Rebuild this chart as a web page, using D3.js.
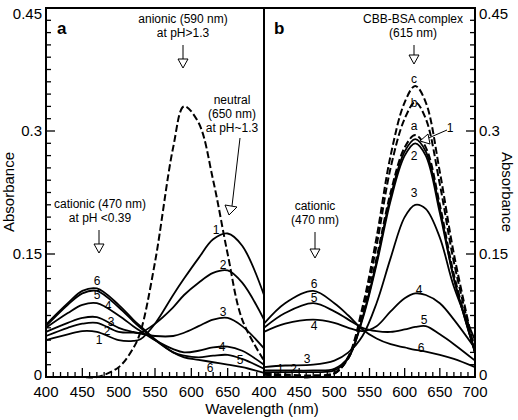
<!DOCTYPE html><html><head><meta charset="utf-8"><script src="https://cdn.jsdelivr.net/npm/d3@7"></script>
<style>body{margin:0;background:#fff}text{font-family:"Liberation Sans",Arial,sans-serif}</style></head><body>
<svg id="c" width="518" height="420"></svg>
<script>
const wlA=[400,430,450,470,500,520,530,550,575,590,610,630,650,670,700];
const aAnion=[0,0,0,0,0.012,0.035,0.055,0.14,0.28,0.33,0.31,0.24,0.15,0.07,0.02];
const aS1=[0.045,0.052,0.056,0.055,0.045,0.044,0.046,0.065,0.1,0.12,0.145,0.168,0.175,0.16,0.1];
const aS2=[0.05,0.06,0.065,0.066,0.055,0.054,0.054,0.065,0.085,0.1,0.115,0.127,0.13,0.115,0.07];
const aS3=[0.055,0.066,0.072,0.073,0.06,0.055,0.053,0.05,0.05,0.054,0.062,0.07,0.072,0.062,0.035];
const aS4=[0.06,0.078,0.088,0.09,0.075,0.062,0.056,0.045,0.034,0.03,0.032,0.036,0.037,0.032,0.015];
const aS5=[0.062,0.088,0.102,0.105,0.085,0.068,0.06,0.045,0.03,0.026,0.024,0.026,0.027,0.022,0.01];
const aS6=[0.064,0.09,0.105,0.108,0.088,0.07,0.062,0.046,0.03,0.024,0.021,0.018,0.015,0.012,0.005];
const wlB=[400,430,470,500,520,540,560,580,600,615,630,650,670,700];
const bC=[0.003,0.001,0,0.004,0.025,0.085,0.17,0.27,0.335,0.355,0.335,0.25,0.15,0.03];
const bB=[0.003,0.001,0,0.004,0.024,0.08,0.16,0.255,0.315,0.335,0.315,0.235,0.14,0.03];
const bA=[0.004,0.003,0.002,0.005,0.023,0.075,0.145,0.225,0.28,0.295,0.28,0.21,0.125,0.03];
const b1=[0.006,0.006,0.006,0.008,0.023,0.072,0.14,0.22,0.275,0.29,0.275,0.205,0.12,0.03];
const b2=[0.008,0.008,0.008,0.01,0.024,0.07,0.137,0.215,0.27,0.285,0.27,0.2,0.12,0.03];
const b3=[0.012,0.014,0.015,0.02,0.03,0.05,0.09,0.145,0.195,0.21,0.205,0.17,0.11,0.045];
const b4=[0.055,0.065,0.07,0.066,0.06,0.056,0.062,0.08,0.096,0.102,0.1,0.09,0.07,0.035];
const b5=[0.06,0.078,0.09,0.08,0.07,0.06,0.056,0.055,0.058,0.061,0.062,0.052,0.04,0.02];
const b6=[0.065,0.09,0.105,0.09,0.075,0.058,0.047,0.04,0.036,0.033,0.031,0.027,0.022,0.012];
const xTicks=[400,450,500,550,600,650,700];
const yTicks=[0,0.15,0.3,0.45];

const svg=d3.select("#c");
const y=d3.scaleLinear([0,0.45],[377,8]);
const xa=d3.scaleLinear([400,700],[46,264]);
const xb=d3.scaleLinear([400,700],[264,475]);
const g=svg.append("g");
function panel(x,series,wl){
  const line=d3.line().x((d,i)=>x(wl[i])).y(d=>y(d)).curve(d3.curveCatmullRom);
  series.forEach(s=>{g.append("path").attr("d",line(s.v)).attr("fill","none").attr("stroke","#000")
    .attr("stroke-width",s.d?2:1.8).attr("stroke-dasharray",s.d?"7,3":null);});
  d3.range(400,701,10).forEach(v=>{const big=v%50===0;
    g.append("line").attr("x1",x(v)).attr("x2",x(v)).attr("y1",377).attr("y2",377-(big?9:5)).attr("stroke","#000").attr("stroke-width",1.3);});
  xTicks.forEach(v=>{ if(x===xa&&v===700)return;
    g.append("text").attr("x",x(v)).attr("y",397).attr("text-anchor","middle").attr("font-size",15).text(v);});
}
panel(xa,[{v:aAnion,d:1},{v:aS1},{v:aS2},{v:aS3},{v:aS4},{v:aS5},{v:aS6}],wlA);
panel(xb,[{v:bC,d:1},{v:bB,d:1},{v:bA,d:1},{v:b1},{v:b2},{v:b3},{v:b4},{v:b5},{v:b6}],wlB);
g.append("rect").attr("x",46).attr("y",8).attr("width",429).attr("height",369).attr("fill","none").attr("stroke","#000").attr("stroke-width",2);
g.append("line").attr("x1",264).attr("x2",264).attr("y1",8).attr("y2",377).attr("stroke","#000").attr("stroke-width",2);
d3.range(0,0.4501,0.015).forEach((v,i)=>{const big=i%10===0;const L=big?9:5;
  g.append("line").attr("x1",46).attr("x2",46+L).attr("y1",y(v)).attr("y2",y(v)).attr("stroke","#000").attr("stroke-width",1.3);
  g.append("line").attr("x1",475).attr("x2",475-L).attr("y1",y(v)).attr("y2",y(v)).attr("stroke","#000").attr("stroke-width",1.3);});
yTicks.forEach(v=>{const dy=v===0.45?11:(v===0?3:5);
  g.append("text").attr("x",42).attr("y",y(v)+dy).attr("text-anchor","end").attr("font-size",15).text(v);
  g.append("text").attr("x",479).attr("y",y(v)+dy).attr("font-size",15).text(v);});
svg.append("text").attr("transform","translate(14,192) rotate(-90)").attr("text-anchor","middle").attr("font-size",15).text("Absorbance");
svg.append("text").attr("transform","translate(502,192) rotate(90)").attr("text-anchor","middle").attr("font-size",15).text("Absorbance");
svg.append("text").attr("x",262).attr("y",414).attr("text-anchor","middle").attr("font-size",15).text("Wavelength (nm)");
svg.append("text").attr("x",57).attr("y",34).attr("font-size",17).attr("font-weight","bold").text("a");
svg.append("text").attr("x",274).attr("y",34).attr("font-size",17).attr("font-weight","bold").text("b");
function t(x,yy,s,fs){svg.append("text").attr("x",x).attr("y",yy).attr("text-anchor","middle").attr("font-size",fs||12).text(s);}
function arrow(x,y1,y2){svg.append("line").attr("x1",x).attr("y1",y1).attr("x2",x).attr("y2",y2-8).attr("stroke","#000");
  svg.append("path").attr("d",`M${x-5},${y2-9}L${x+5},${y2-9}L${x},${y2}Z`).attr("fill","#fff").attr("stroke","#000");}
t(183,23,"anionic (590 nm)");t(183,37,"at pH>1.3");arrow(183,45,68);
t(232,104,"neutral");t(232,118,"(650 nm)");t(232,132,"at pH~1.3");
svg.append("line").attr("x1",240).attr("y1",138).attr("x2",232).attr("y2",206).attr("stroke","#000");
svg.append("path").attr("d","M225,205L237,207L229,215Z").attr("fill","#fff").attr("stroke","#000");
t(100,208,"cationic (470 nm)");t(100,222,"at pH <0.39");arrow(99,230,253);
t(413,23,"CBB-BSA complex");t(413,37,"(615 nm)");arrow(414,45,64);
t(315,210,"cationic");t(315,224,"(470 nm)");arrow(315,232,258);
svg.append("line").attr("x1",447).attr("y1",130).attr("x2",424).attr("y2",140).attr("stroke","#000");
svg.append("path").attr("d","M420,141L428,134L430,144Z").attr("fill","#fff").attr("stroke","#000");
const labs=[[99,344,"1"],[107,335,"2"],[111,326,"3"],[108,310,"4"],[97,299,"5"],[97,285,"6"],
 [216,234,"1"],[223,269,"2"],[223,316,"3"],[222,351,"4"],[240,364,"5"],[210,372,"6"],
 [414,83,"c"],[414,107,"b"],[414,130,"a"],[450,132,"1"],[414,160,"2"],[414,197,"3"],[419,294,"4"],[424,324,"5"],[421,352,"6"],
 [314,288,"6"],[314,302,"5"],[314,330,"4"],[307,363,"3"],[287,373,"1, 2"]];
labs.forEach(l=>t(l[0],l[1],l[2],12));
</script></body></html>
